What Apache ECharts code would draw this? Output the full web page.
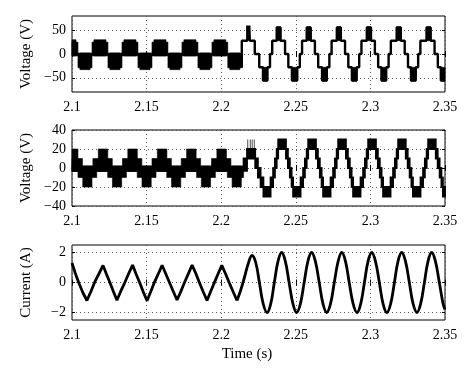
<!DOCTYPE html>
<html><head><meta charset="utf-8">
<script src="https://cdn.jsdelivr.net/npm/echarts@6/dist/echarts.min.js"></script>
<style>html,body{margin:0;padding:0;background:#fff}#c{width:474px;height:382px}</style>
</head><body><div id="c"></div>
<script>
// ---- axes ----
const xTicks = [2.1, 2.15, 2.2, 2.25, 2.3, 2.35];
const xTickLabels = ['2.1', '2.15', '2.2', '2.25', '2.3', '2.35'];
const topYTicks = [-50, 0, 50];
const midYTicks = [-40, -20, 0, 20, 40];
const botYTicks = [-2, 0, 2];

// ---- top voltage: PWM blocks [t0, t1, low, high] ----
const topBlocks = [
  [2.1000, 2.1040, -4, 25], [2.1000, 2.1027, -4, 30],
  [2.1134, 2.1241, -4, 25], [2.1147, 2.1228, -4, 30],
  [2.1335, 2.1442, -4, 25], [2.1348, 2.1429, -4, 30],
  [2.1536, 2.1643, -4, 25], [2.1549, 2.1630, -4, 30],
  [2.1737, 2.1844, -4, 25], [2.1750, 2.1831, -4, 30],
  [2.1938, 2.2044, -4, 25], [2.1951, 2.2031, -4, 30],
  [2.1040, 2.1134, -29, 2], [2.1053, 2.1121, -33, 2],
  [2.1241, 2.1335, -29, 2], [2.1254, 2.1322, -33, 2],
  [2.1442, 2.1536, -29, 2], [2.1455, 2.1523, -33, 2],
  [2.1643, 2.1737, -29, 2], [2.1656, 2.1724, -33, 2],
  [2.1844, 2.1938, -29, 2], [2.1857, 2.1925, -33, 2],
  [2.2044, 2.2138, -29, 2], [2.2057, 2.2125, -33, 2],
  // peak and trough pulses of the staircase
  [2.2372, 2.2398, 28, 57], [2.2573, 2.2600, 28, 57], [2.2775, 2.2802, 28, 57],
  [2.2976, 2.3004, 28, 57], [2.3176, 2.3204, 28, 57], [2.3376, 2.3404, 28, 57],
  [2.2280, 2.2310, -57, -28], [2.2474, 2.2510, -57, -28], [2.2676, 2.2708, -57, -28],
  [2.2876, 2.2908, -57, -28], [2.3074, 2.3106, -57, -28], [2.3272, 2.3304, -57, -28],
  [2.3472, 2.3500, -57, -28]
];
// top voltage staircase: [time of switch, new level]
const topSteps = [
  [2.2138, -29], [2.2138, 28], [2.2175, 60], [2.2179, 28], [2.2188, 60], [2.2192, 28],
  [2.2225, 0], [2.2255, -28], [2.2280, -56], [2.2310, -28], [2.2327, 0], [2.2342, 28],
  [2.2372, 56], [2.2398, 28], [2.2428, 0], [2.2450, -28], [2.2474, -56], [2.2510, -28],
  [2.2527, 0], [2.2542, 28], [2.2573, 56], [2.2600, 28], [2.2628, 0], [2.2650, -28],
  [2.2676, -56], [2.2708, -28], [2.2725, 0], [2.2740, 28], [2.2775, 56], [2.2802, 28],
  [2.2830, 0], [2.2852, -28], [2.2876, -56], [2.2908, -28], [2.2925, 0], [2.2940, 28],
  [2.2976, 56], [2.3004, 28], [2.3030, 0], [2.3052, -28], [2.3074, -56], [2.3106, -28],
  [2.3122, 0], [2.3137, 28], [2.3176, 56], [2.3204, 28], [2.3230, 0], [2.3252, -28],
  [2.3272, -56], [2.3304, -28], [2.3320, 0], [2.3335, 28], [2.3376, 56], [2.3404, 28],
  [2.3430, 0], [2.3452, -28], [2.3472, -56], [2.3500, -56]
];

// ---- middle voltage: PWM blocks [t0, t1, low, high] ----
const midBlocks = [
  [2.1000, 2.2150, -3.5, 2],
  [2.1000, 2.1040, -3.5, 20], [2.1000, 2.1070, -3.5, 10],
  [2.1176, 2.1240, -3.5, 20], [2.1140, 2.1270, -3.5, 10],
  [2.1374, 2.1438, -3.5, 20], [2.1338, 2.1468, -3.5, 10],
  [2.1572, 2.1636, -3.5, 20], [2.1536, 2.1666, -3.5, 10],
  [2.1768, 2.1832, -3.5, 20], [2.1732, 2.1862, -3.5, 10],
  [2.1971, 2.2035, -3.5, 20], [2.1935, 2.2065, -3.5, 10],
  [2.1072, 2.1134, -20, 2], [2.1040, 2.1166, -10, 2],
  [2.1271, 2.1333, -20, 2], [2.1239, 2.1365, -10, 2],
  [2.1469, 2.1531, -20, 2], [2.1437, 2.1563, -10, 2],
  [2.1667, 2.1729, -20, 2], [2.1635, 2.1761, -10, 2],
  [2.1867, 2.1929, -20, 2], [2.1835, 2.1961, -10, 2],
  [2.2073, 2.2135, -20, 2], [2.2041, 2.2150, -10, 2]
];
// switching spikes at the change of mode
const midSpikes = [
  [2.2176, 2.2180, 20, 30], [2.2192, 2.2196, 20, 30],
  [2.2205, 2.2209, 20, 30], [2.2219, 2.2223, 20, 30]
];
// middle voltage staircase bands: [start time, low, high]
const midSteps = [
  [2.2150, -3, 10], [2.2173, 10, 20], [2.2228, 0, 10], [2.2246, -10, 0], [2.2264, -20, -10],
  [2.2283, -30, -20], [2.2331, -20, -10], [2.2348, -10, 0], [2.2360, 0, 10], [2.2372, 10, 20],
  [2.2382, 20, 30], [2.2434, 10, 20], [2.2447, 0, 10], [2.2460, -10, 0], [2.2472, -20, -10],
  [2.2482, -30, -20], [2.2532, -20, -10], [2.2549, -10, 0], [2.2561, 0, 10], [2.2573, 10, 20],
  [2.2583, 20, 30], [2.2635, 10, 20], [2.2648, 0, 10], [2.2661, -10, 0], [2.2673, -20, -10],
  [2.2683, -30, -20], [2.2733, -20, -10], [2.2750, -10, 0], [2.2762, 0, 10], [2.2774, 10, 20],
  [2.2784, 20, 30], [2.2836, 10, 20], [2.2849, 0, 10], [2.2862, -10, 0], [2.2874, -20, -10],
  [2.2884, -30, -20], [2.2934, -20, -10], [2.2951, -10, 0], [2.2963, 0, 10], [2.2975, 10, 20],
  [2.2985, 20, 30], [2.3037, 10, 20], [2.3050, 0, 10], [2.3063, -10, 0], [2.3075, -20, -10],
  [2.3085, -30, -20], [2.3135, -20, -10], [2.3152, -10, 0], [2.3164, 0, 10], [2.3176, 10, 20],
  [2.3186, 20, 30], [2.3237, 10, 20], [2.3250, 0, 10], [2.3263, -10, 0], [2.3275, -20, -10],
  [2.3285, -30, -20], [2.3336, -20, -10], [2.3353, -10, 0], [2.3365, 0, 10], [2.3377, 10, 20],
  [2.3387, 20, 30], [2.3438, 10, 20], [2.3451, 0, 10], [2.3464, -10, 0], [2.3476, -20, -10],
  [2.3486, -30, -20]
];
const midEnd = 2.35;

// ---- current ----
const currentTri = [
  [2.1000, 1.30], [2.1022, 0.62], [2.1048, -0.08], [2.1074, -0.70], [2.1100, -1.20],
  [2.1126, -0.62], [2.1152, 0.02], [2.1180, 0.58], [2.1208, 1.14],
  [2.1230, 0.58], [2.1254, 0.00], [2.1278, -0.62], [2.1301, -1.18],
  [2.1327, -0.58], [2.1353, -0.02], [2.1380, 0.60], [2.1406, 1.16],
  [2.1430, 0.55], [2.1455, -0.04], [2.1479, -0.66], [2.1503, -1.22],
  [2.1528, -0.60], [2.1553, 0.03], [2.1578, 0.57], [2.1604, 1.15],
  [2.1629, 0.57], [2.1654, -0.02], [2.1679, -0.60], [2.1704, -1.17],
  [2.1729, -0.61], [2.1754, 0.00], [2.1780, 0.59], [2.1805, 1.17],
  [2.1830, 0.60], [2.1855, -0.03], [2.1880, -0.63], [2.1905, -1.20],
  [2.1930, -0.58], [2.1955, 0.01], [2.1980, 0.60], [2.2004, 1.14],
  [2.2029, 0.58], [2.2055, -0.04], [2.2080, -0.62], [2.2106, -1.20]
];
const currentSine = [
  [2.2106, -1.20], [2.2131, -0.50], [2.2156, 0.35], [2.2181, 1.25], [2.2206, 1.80],
  [2.2231, 1.35], [2.2256, 0.00], [2.2281, -1.40], [2.2307, -2.00],
  [2.2332, -1.42], [2.2356, 0.00], [2.2381, 1.42], [2.2405, 2.00],
  [2.2430, 1.41], [2.2455, 0.00], [2.2481, -1.42], [2.2506, -2.00],
  [2.2531, -1.41], [2.2556, 0.00], [2.2581, 1.41], [2.2606, 2.00],
  [2.2631, 1.42], [2.2657, 0.00], [2.2682, -1.41], [2.2707, -2.00],
  [2.2733, -1.41], [2.2758, 0.00], [2.2784, 1.42], [2.2808, 2.00],
  [2.2833, 1.41], [2.2858, 0.00], [2.2884, -1.41], [2.2910, -2.00],
  [2.2935, -1.42], [2.2960, 0.00], [2.2984, 1.41], [2.3009, 2.00],
  [2.3034, 1.41], [2.3060, 0.00], [2.3085, -1.42], [2.3111, -2.00],
  [2.3136, -1.41], [2.3161, 0.00], [2.3185, 1.41], [2.3210, 2.00],
  [2.3235, 1.42], [2.3261, 0.00], [2.3286, -1.41], [2.3312, -2.00],
  [2.3337, -1.41], [2.3362, 0.00], [2.3386, 1.41], [2.3411, 2.00],
  [2.3436, 1.41], [2.3462, 0.00], [2.3487, -1.41], [2.3500, -1.80]
];

// ---- build helpers ----
function stepLine(steps) {
  const out = [];
  for (let i = 0; i < steps.length; i++) {
    if (i > 0) out.push([steps[i][0], steps[i - 1][1]]);
    out.push(steps[i]);
  }
  return out;
}
function bandRects(steps, end) {
  return steps.map((s, i) => [s[0], i + 1 < steps.length ? steps[i + 1][0] : end, s[1], s[2]]);
}
function makeRender(strokeW) {
  return function (params, api) {
    const a = api.coord([api.value(0), api.value(3)]);
    const b = api.coord([api.value(1), api.value(2)]);
    const cs = params.coordSys;
    const shape = echarts.graphic.clipRectByRect(
      { x: a[0], y: a[1], width: Math.max(b[0] - a[0], 0.7), height: b[1] - a[1] },
      { x: cs.x, y: cs.y, width: cs.width, height: cs.height });
    return shape && {
      type: 'rect', shape: shape,
      style: { fill: '#000', stroke: strokeW ? '#000' : null, lineWidth: strokeW }
    };
  };
}

const FONT = 'Liberation Serif';
const minus = v => String(v).replace('-', '\u2212');
const gridLine = { show: true, lineStyle: { color: '#555', width: 1, type: [1, 3] } };

const grids = [
  { left: 72, right: 29, top: 16, height: 76 },
  { left: 72, right: 29, top: 130, height: 76 },
  { left: 72, right: 29, top: 245, height: 75 }
];
const yCfg = [
  { min: -80, max: 80, ticks: topYTicks, name: 'Voltage (V)' },
  { min: -40, max: 40, ticks: midYTicks, name: 'Voltage (V)' },
  { min: -2.5, max: 2.5, ticks: botYTicks, name: 'Current (A)' }
];

const xAxes = [], yAxes = [];
grids.forEach((g, i) => {
  xAxes.push({
    type: 'value', gridIndex: i, min: 2.1, max: 2.35, position: 'bottom',
    axisLine: { show: false },
    axisTick: { show: true, inside: true, length: 3, customValues: xTicks, lineStyle: { color: '#000' } },
    axisLabel: {
      customValues: xTicks, margin: 8, color: '#000', fontFamily: FONT, fontSize: 14,
      formatter: v => xTickLabels[Math.round((v - 2.1) / 0.05)]
    },
    splitLine: gridLine,
    name: i === 2 ? 'Time (s)' : '', nameLocation: 'middle', nameGap: 27,
    nameTextStyle: { color: '#000', fontFamily: FONT, fontSize: 15, padding: [0, 23, 0, 0] }
  });
  xAxes.push({
    type: 'value', gridIndex: i, min: 2.1, max: 2.35, position: 'top',
    axisLine: { show: false },
    axisTick: { show: true, inside: true, length: 3, customValues: xTicks, lineStyle: { color: '#000' } },
    axisLabel: { show: false }, splitLine: { show: false }
  });
  const c = yCfg[i];
  yAxes.push({
    type: 'value', gridIndex: i, min: c.min, max: c.max, position: 'left',
    axisLine: { show: false },
    axisTick: { show: true, inside: true, length: 3, customValues: c.ticks, lineStyle: { color: '#000' } },
    axisLabel: { customValues: c.ticks, margin: 6, color: '#000', fontFamily: FONT, fontSize: 14, formatter: minus },
    splitLine: gridLine,
    name: c.name, nameLocation: 'middle', nameGap: 38,
    nameTextStyle: { color: '#000', fontFamily: FONT, fontSize: 15 }
  });
  yAxes.push({
    type: 'value', gridIndex: i, min: c.min, max: c.max, position: 'right',
    axisLine: { show: false },
    axisTick: { show: true, inside: true, length: 3, customValues: c.ticks, lineStyle: { color: '#000' } },
    axisLabel: { show: false }, splitLine: { show: false }
  });
});

const chart = echarts.init(document.getElementById('c'), null, { renderer: 'canvas' });
chart.setOption({
  animation: false,
  backgroundColor: '#fff',
  grid: grids.map(g => Object.assign({ show: true, borderColor: '#000', borderWidth: 1, backgroundColor: 'transparent' }, g)),
  xAxis: xAxes,
  yAxis: yAxes,
  series: [
    { type: 'custom', xAxisIndex: 0, yAxisIndex: 0, renderItem: makeRender(0.6), data: topBlocks, encode: { x: [0, 1], y: [2, 3] }, silent: true },
    { type: 'line', xAxisIndex: 0, yAxisIndex: 0, data: stepLine(topSteps), showSymbol: false, clip: true,
      lineStyle: { color: '#000', width: 2.4 }, silent: true },
    { type: 'custom', xAxisIndex: 2, yAxisIndex: 2, renderItem: makeRender(0.6), data: midBlocks, encode: { x: [0, 1], y: [2, 3] }, silent: true },
    { type: 'custom', xAxisIndex: 2, yAxisIndex: 2, renderItem: makeRender(0), data: midSpikes, encode: { x: [0, 1], y: [2, 3] }, silent: true },
    { type: 'custom', xAxisIndex: 2, yAxisIndex: 2, renderItem: makeRender(1.8), data: bandRects(midSteps, midEnd), encode: { x: [0, 1], y: [2, 3] }, silent: true },
    { type: 'line', xAxisIndex: 4, yAxisIndex: 4, data: currentTri, showSymbol: false, clip: true,
      lineStyle: { color: '#000', width: 2.8 }, silent: true },
    { type: 'line', xAxisIndex: 4, yAxisIndex: 4, data: currentSine, showSymbol: false, clip: true, smooth: 0.4,
      lineStyle: { color: '#000', width: 2.8 }, silent: true }
  ]
});
</script>
</body></html>
